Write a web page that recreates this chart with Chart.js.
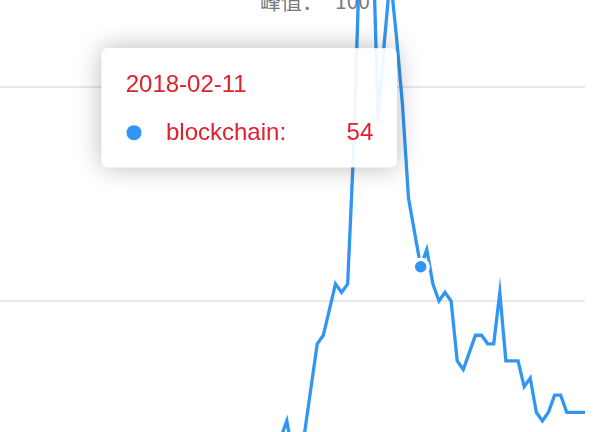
<!DOCTYPE html>
<html>
<head>
<meta charset="utf-8">
<script src="https://cdn.jsdelivr.net/npm/chart.js@4"></script>
<style>
html,body{margin:0;padding:0;background:#fff;width:612px;height:432px;overflow:hidden;}
#wrap{position:relative;width:612px;height:432px;overflow:hidden;}
#peak{position:absolute;left:260px;top:-10px;font-family:"Noto Sans CJK SC",sans-serif;font-size:21px;line-height:21px;color:#7a7a7a;white-space:nowrap;z-index:0;}
#peak .num{margin-left:12px;}
canvas{position:absolute;left:0;top:0;z-index:1;}
</style>
</head>
<body>
<div id="wrap">
  <div id="peak"></div>
  <canvas id="c" width="612" height="432"></canvas>
</div>
<script>
// ---- data ----
const weeks = [
  '2017-08-13','2017-08-20','2017-08-27','2017-09-03','2017-09-10','2017-09-17','2017-09-24',
  '2017-10-01','2017-10-08','2017-10-15','2017-10-22','2017-10-29','2017-11-05','2017-11-12',
  '2017-11-19','2017-11-26','2017-12-03','2017-12-10','2017-12-17','2017-12-24','2017-12-31',
  '2018-01-07','2018-01-14','2018-01-21','2018-01-28','2018-02-04','2018-02-11','2018-02-18',
  '2018-02-25','2018-03-04','2018-03-11','2018-03-18','2018-03-25','2018-04-01','2018-04-08',
  '2018-04-15','2018-04-22','2018-04-29','2018-05-06','2018-05-13','2018-05-20','2018-05-27',
  '2018-06-03','2018-06-10','2018-06-17','2018-06-24','2018-07-01','2018-07-08','2018-07-15',
  '2018-07-22','2018-07-29','2018-08-05','2018-08-12','2018-08-19'
];
const interest = [
  30, 31, 31, 34, 36, 32, 31,
  35, 40, 45, 46, 49, 52, 51,
  52, 68, 91, 100, 96, 71, 80,
  88, 81, 73, 62, 58, 54, 56,
  52, 50, 51, 50, 43, 42, 44,
  46, 46, 45, 45, 51, 43, 43,
  43, 40, 41, 37, 36, 37, 39,
  39, 37, 37, 37, 37
];
const gridValues = [50, 75];
const seriesName = 'blockchain';
const focusWeek = '2018-02-11';
const peakLabel = '峰值：';
const peakValue = 100;

// ---- view window (crop of the full chart) ----
const yView = {min: 34.7, max: 85.16};
const xView = {min: -43.13, max: weeks.length - 1};

const blue = '#3196f3';
const red = '#e0202d';

document.getElementById('peak').innerHTML = peakLabel + '<span class="num">' + peakValue + '</span>';

// horizontal grid lines drawn through the y scale
const gridPlugin = {
  id: 'hgrid',
  beforeDatasetsDraw(chart) {
    const {ctx, chartArea, scales} = chart;
    ctx.save();
    ctx.strokeStyle = '#e8e8e8';
    ctx.lineWidth = 2;
    gridValues.forEach(v => {
      const y = scales.y.getPixelForValue(v);
      ctx.beginPath();
      ctx.moveTo(chartArea.left, y);
      ctx.lineTo(chartArea.right, y);
      ctx.stroke();
    });
    ctx.restore();
  }
};

function roundRectPath(ctx, x, y, w, h, r) {
  ctx.moveTo(x + r, y);
  ctx.lineTo(x + w - r, y);
  ctx.arcTo(x + w, y, x + w, y + r, r);
  ctx.lineTo(x + w, y + h - r);
  ctx.arcTo(x + w, y + h, x + w - r, y + h, r);
  ctx.lineTo(x + r, y + h);
  ctx.arcTo(x, y + h, x, y + h - r, r);
  ctx.lineTo(x, y + r);
  ctx.arcTo(x, y, x + r, y, r);
  ctx.closePath();
}

// card-style tooltip for the active point, drawn on the chart canvas
const cardTooltip = {
  id: 'cardTooltip',
  afterDraw(chart) {
    const act = chart.getActiveElements();
    if (!act.length) return;
    const {element, index} = act[0];
    const ctx = chart.ctx;
    const bw = 295, bh = 119, r = 6;
    const bx = element.x - 319, by = element.y - 218.5;

    // soft shadow, outside the card only
    ctx.save();
    ctx.beginPath();
    ctx.rect(0, 0, chart.width, chart.height);
    roundRectPath(ctx, bx, by, bw, bh, r);
    ctx.clip('evenodd');
    ctx.beginPath();
    roundRectPath(ctx, bx, by, bw, bh, r);
    ctx.shadowColor = 'rgba(0,0,0,0.28)';
    ctx.shadowBlur = 26;
    ctx.fillStyle = '#ffffff';
    ctx.fill();
    ctx.restore();

    // translucent white card
    ctx.save();
    ctx.beginPath();
    roundRectPath(ctx, bx, by, bw, bh, r);
    ctx.fillStyle = 'rgba(255,255,255,0.93)';
    ctx.fill();
    ctx.restore();

    ctx.save();
    ctx.font = '24px "Liberation Sans", Arial, sans-serif';
    ctx.fillStyle = red;
    ctx.textBaseline = 'alphabetic';
    ctx.textAlign = 'left';
    ctx.fillText(weeks[index], bx + 24, by + 44);
    ctx.fillText(seriesName + ':', bx + 64.3, by + 91.7);
    ctx.textAlign = 'right';
    ctx.fillText(String(interest[index]), bx + bw - 23.4, by + 91.7);
    ctx.beginPath();
    ctx.fillStyle = blue;
    ctx.arc(bx + 32.3, by + 84.4, 7.5, 0, Math.PI * 2);
    ctx.fill();
    ctx.restore();
  }
};

const points = interest.map((v, i) => ({x: i, y: v}));

const chart = new Chart(document.getElementById('c'), {
  type: 'line',
  data: {
    datasets: [{
      label: seriesName,
      data: points,
      borderColor: blue,
      backgroundColor: blue,
      borderWidth: 3.3,
      tension: 0,
      fill: false,
      pointRadius: 0,
      pointHoverRadius: 7.5,
      pointHoverBorderWidth: 3.5,
      pointHoverBackgroundColor: blue,
      pointHoverBorderColor: '#ffffff'
    }]
  },
  options: {
    responsive: false,
    animation: false,
    events: [],
    layout: {autoPadding: false, padding: {left: 0, right: 27, top: 0, bottom: 0}},
    plugins: {
      legend: {display: false},
      title: {display: false},
      tooltip: {enabled: false}
    },
    scales: {
      x: {type: 'linear', display: false, min: xView.min, max: xView.max},
      y: {type: 'linear', display: false, min: yView.min, max: yView.max}
    }
  },
  plugins: [gridPlugin, cardTooltip]
});

const idx = weeks.indexOf(focusWeek);
chart.setActiveElements([{datasetIndex: 0, index: idx}]);
chart.update();
</script>
</body>
</html>
